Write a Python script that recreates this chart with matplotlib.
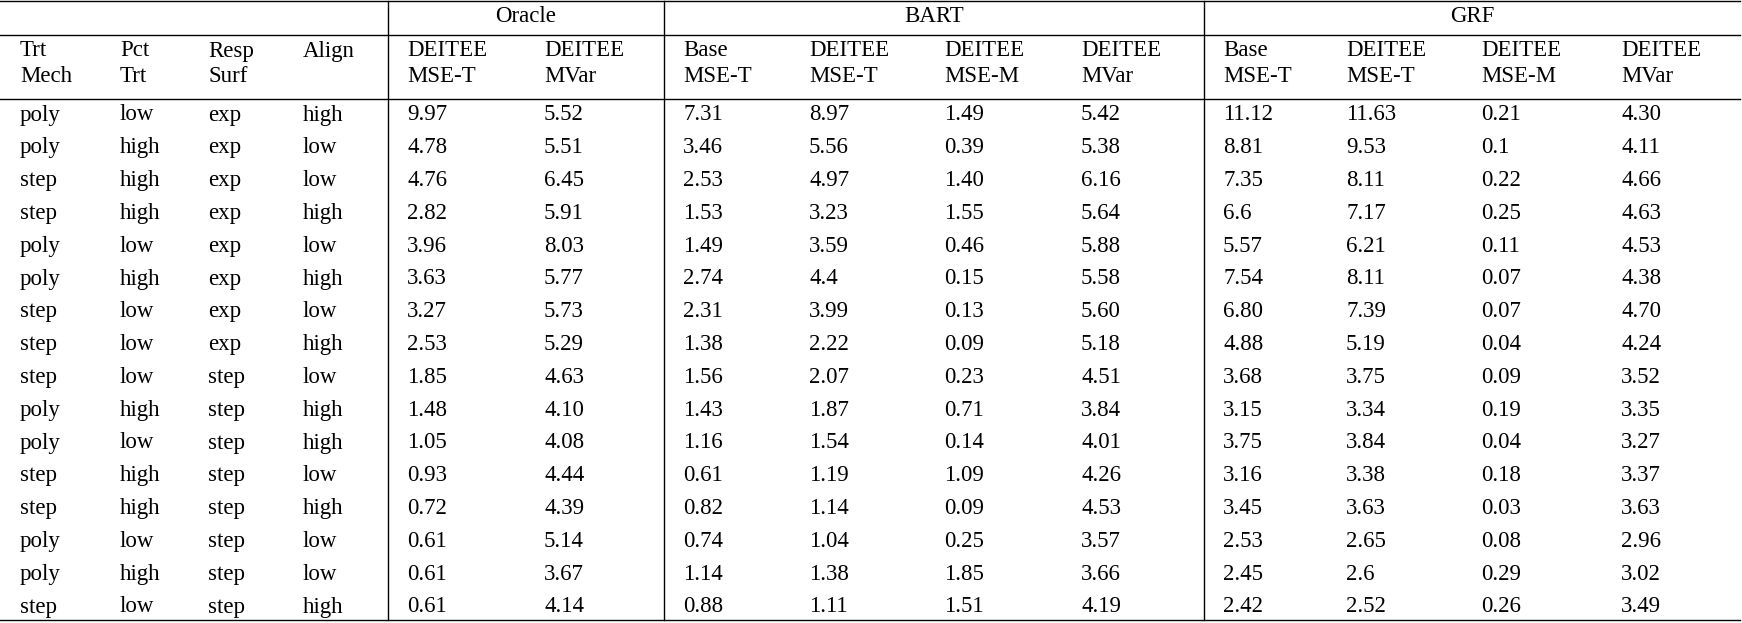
import matplotlib.pyplot as plt

plt.rcParams['font.family'] = ['Liberation Serif', 'DejaVu Serif']

groups = ["Oracle", "BART", "GRF"]
head1 = ["Trt", "Pct", "Resp", "Align", "DEITEE", "DEITEE", "Base", "DEITEE", "DEITEE", "DEITEE",
         "Base", "DEITEE", "DEITEE", "DEITEE"]
head2 = ["Mech", "Trt", "Surf", "", "MSE-T", "MVar", "MSE-T", "MSE-T", "MSE-M", "MVar",
         "MSE-T", "MSE-T", "MSE-M", "MVar"]
rows = [
    ["poly", "low", "exp", "high", "9.97", "5.52", "7.31", "8.97", "1.49", "5.42", "11.12", "11.63", "0.21", "4.30"],
    ["poly", "high", "exp", "low", "4.78", "5.51", "3.46", "5.56", "0.39", "5.38", "8.81", "9.53", "0.1", "4.11"],
    ["step", "high", "exp", "low", "4.76", "6.45", "2.53", "4.97", "1.40", "6.16", "7.35", "8.11", "0.22", "4.66"],
    ["step", "high", "exp", "high", "2.82", "5.91", "1.53", "3.23", "1.55", "5.64", "6.6", "7.17", "0.25", "4.63"],
    ["poly", "low", "exp", "low", "3.96", "8.03", "1.49", "3.59", "0.46", "5.88", "5.57", "6.21", "0.11", "4.53"],
    ["poly", "high", "exp", "high", "3.63", "5.77", "2.74", "4.4", "0.15", "5.58", "7.54", "8.11", "0.07", "4.38"],
    ["step", "low", "exp", "low", "3.27", "5.73", "2.31", "3.99", "0.13", "5.60", "6.80", "7.39", "0.07", "4.70"],
    ["step", "low", "exp", "high", "2.53", "5.29", "1.38", "2.22", "0.09", "5.18", "4.88", "5.19", "0.04", "4.24"],
    ["step", "low", "step", "low", "1.85", "4.63", "1.56", "2.07", "0.23", "4.51", "3.68", "3.75", "0.09", "3.52"],
    ["poly", "high", "step", "high", "1.48", "4.10", "1.43", "1.87", "0.71", "3.84", "3.15", "3.34", "0.19", "3.35"],
    ["poly", "low", "step", "high", "1.05", "4.08", "1.16", "1.54", "0.14", "4.01", "3.75", "3.84", "0.04", "3.27"],
    ["step", "high", "step", "low", "0.93", "4.44", "0.61", "1.19", "1.09", "4.26", "3.16", "3.38", "0.18", "3.37"],
    ["step", "high", "step", "high", "0.72", "4.39", "0.82", "1.14", "0.09", "4.53", "3.45", "3.63", "0.03", "3.63"],
    ["poly", "low", "step", "low", "0.61", "5.14", "0.74", "1.04", "0.25", "3.57", "2.53", "2.65", "0.08", "2.96"],
    ["poly", "high", "step", "low", "0.61", "3.67", "1.14", "1.38", "1.85", "3.66", "2.45", "2.6", "0.29", "3.02"],
    ["step", "low", "step", "high", "0.61", "4.14", "0.88", "1.11", "1.51", "4.19", "2.42", "2.52", "0.26", "3.49"],
]

# layout in pixel coordinates
W, H = 1742, 623
col_x = [20, 120, 208, 303, 407, 544, 683, 809, 944, 1081, 1223, 1346, 1481, 1621]
vlines = [388, 664, 1204]
group_span = [(388, 664), (664, 1204), (1204, 1740)]
fs = 16.5

fig = plt.figure(figsize=(W / 100, H / 100), dpi=100)
ax = fig.add_axes([0, 0, 1, 1])
ax.set_xlim(0, W)
ax.set_ylim(H, 0)
ax.axis("off")

lw = 1.0
for y in [1, 35, 99, 620]:
    ax.plot([0, 1740], [y, y], color="black", lw=lw)
for x in vlines:
    ax.plot([x, x], [1, 620], color="black", lw=lw)

for name, (a, b) in zip(groups, group_span):
    ax.text((a + b) / 2, 16, name, ha="center", va="center", fontsize=fs)

for x, t1, t2 in zip(col_x, head1, head2):
    ax.text(x, 51, t1, ha="left", va="center", fontsize=fs)
    ax.text(x, 76, t2, ha="left", va="center", fontsize=fs)

for i, r in enumerate(rows):
    y = 115 + i * 32.8
    for x, t in zip(col_x, r):
        ax.text(x, y, t, ha="left", va="center", fontsize=fs)

fig.savefig("out.png", dpi=100)
